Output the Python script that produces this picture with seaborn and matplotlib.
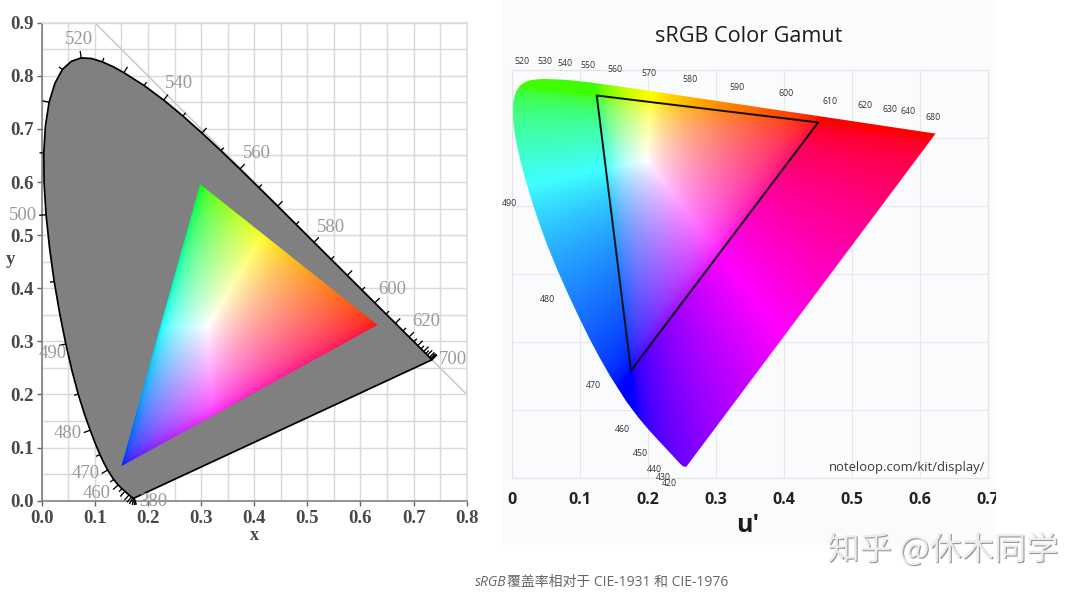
"""sRGB gamut drawn on the CIE-1931 xy and CIE-1976 u'v' chromaticity diagrams."""

import numpy as np
import matplotlib
matplotlib.use("Agg")
import matplotlib.pyplot as plt
import matplotlib.patheffects as pe
from matplotlib.patches import Polygon, Rectangle
from matplotlib.transforms import Bbox
import seaborn as sns

W, H = 1087, 593

# ---------------------------------------------------------------------------
# Data
# ---------------------------------------------------------------------------

# spectral locus, xy (half steps are only there to keep the bend round)
wave_nm = [380, 390, 400, 410, 420, 430, 440, 450, 455, 460, 465, 470, 472.5, 475, 477.5, 480, 482.5, 485,
           487.5, 490, 492.5, 495, 497.5, 500, 502.5, 505, 507.5, 510, 512.5, 515, 517.5, 520, 522.5, 525,
           527.5, 530, 535, 540, 545, 550, 555, 560, 565, 570, 575, 580, 585, 590, 595, 600, 605, 610, 615,
           620, 625, 630, 635, 640, 645, 650, 660, 670, 680, 690, 700]
locus_x = [.1741, .1738, .1733, .1726, .1714, .1689, .1644, .1566, .1510, .1440, .1355, .1241, .1173, .1096,
           .1010, .0913, .0803, .0687, .0570, .0454, .0340, .0235, .0148, .0082, .0045, .0039, .0071, .0139,
           .0248, .0389, .0557, .0743, .0939, .1142, .1346, .1547, .1929, .2296, .2658, .3016, .3373, .3731,
           .4087, .4441, .4788, .5125, .5448, .5752, .6029, .6270, .6482, .6658, .6801, .6915, .7006, .7079,
           .7140, .7190, .7230, .7260, .7300, .7320, .7334, .7344, .7347]
locus_y = [.0050, .0049, .0048, .0048, .0051, .0069, .0109, .0177, .0227, .0297, .0399, .0578, .0706, .0868,
           .1073, .1327, .1637, .2007, .2447, .2950, .3519, .4127, .4756, .5384, .5985, .6548, .7059, .7502,
           .7857, .8120, .8272, .8338, .8326, .8262, .8171, .8059, .7816, .7543, .7243, .6923, .6589, .6245,
           .5896, .5547, .5202, .4866, .4544, .4242, .3965, .3725, .3514, .3340, .3197, .3083, .2993, .2920,
           .2859, .2809, .2770, .2740, .2700, .2680, .2666, .2656, .2653]

# spectral locus, u'v'
locus_u = [.2568, .2522, .2461, .2347, .2161, .2033, .1877, .1690, .1441, .1299, .1147, .0989, .0828, .0669,
           .0521, .0392, .0282, .0190, .0119, .0068, .0035, .0018, .0014, .0025, .0046, .0080, .0123, .0174,
           .0231, .0293, .0360, .0429, .0501, .0792, .1127, .1531, .2026, .2623, .3315, .4035, .4692, .5203,
           .5830, .6234]
locus_v = [.0166, .0169, .0226, .0350, .0549, .0688, .0871, .1119, .1510, .1759, .2044, .2364, .2708, .3067,
           .3427, .3782, .4117, .4426, .4698, .4933, .5131, .5295, .5432, .5545, .5638, .5712, .5770, .5809,
           .5837, .5853, .5861, .5866, .5868, .5856, .5821, .5766, .5694, .5604, .5501, .5393, .5296, .5219,
           .5125, .5065]

# sRGB triangle corners R, G, B
srgb_x = [.632, .298, .15]
srgb_y = [.331, .596, .065]
srgb_u = [.4507, .1250, .1754]
srgb_v = [.5229, .5625, .1579]

left_xticks = [0.0, 0.1, 0.2, 0.3, 0.4, 0.5, 0.6, 0.7, 0.8]
left_yticks = [0.0, 0.1, 0.2, 0.3, 0.4, 0.5, 0.6, 0.7, 0.8, 0.9]
right_xticks = [0, 0.1, 0.2, 0.3, 0.4, 0.5, 0.6, 0.7]
right_xlabels = ["0", "0.1", "0.2", "0.3", "0.4", "0.5", "0.6", "0.7"]
right_yticks = [0, 0.1, 0.2, 0.3, 0.4, 0.5, 0.6]

left_wave_labels = ["520", "540", "560", "580", "600", "620", "700", "500", "490", "480", "470", "460", "380"]
right_wave_labels = ["520", "530", "540", "550", "560", "570", "580", "590", "600", "610", "620", "630",
                     "640", "680", "490", "480", "470", "460", "450", "440", "430", "420"]

# label anchors in image pixels
left_label_px = [(79, 40), (179, 84), (257, 153), (331, 228), (392, 289), (426, 322), (453, 359),
                 (23, 215), (53, 354), (68, 433), (86, 474), (97, 493), (153, 501)]
right_label_px = [(522, 61), (545, 61), (565, 63), (588, 65), (615, 69), (649, 73), (690, 80), (737, 87),
                  (786, 94), (830, 101), (865, 106), (890, 110), (908, 112), (933, 117), (510, 203),
                  (548, 299), (593, 385), (622, 430), (640, 453), (654, 469), (663, 477), (669, 484)]


# ---------------------------------------------------------------------------
# Helpers
# ---------------------------------------------------------------------------

def xy_to_rgb(x, y, green_lift=0.0):
    """Display colour of a chromaticity: out of gamut clipped, brightest channel at 1."""
    y = np.maximum(y, 1e-4)
    X, Z = x / y, (1 - x - y) / y
    r = 3.2406 * X - 1.5372 - 0.4986 * Z
    g = -0.9689 * X + 1.8758 + 0.0415 * Z
    b = 0.0557 * X - 0.2040 + 1.0570 * Z
    rgb = np.clip(np.dstack([r, g, b]), 0, None)
    rgb = rgb / np.maximum(rgb.max(axis=2, keepdims=True), 1e-6)
    rgb[..., 0] = np.minimum(rgb[..., 0] + green_lift * rgb[..., 1], 1)
    return np.where(rgb <= 0.0031308, 12.92 * rgb, 1.055 * rgb ** (1 / 2.4) - 0.055)


def add_axes_px(fig, left, top, right, bottom):
    return fig.add_axes([left / W, 1 - bottom / H, (right - left) / W, (bottom - top) / H])


def px_text(fig, x, y, s, **kw):
    kw.setdefault("ha", "center")
    kw.setdefault("va", "center")
    return fig.text(x / W, 1 - y / H, s, **kw)


# ---------------------------------------------------------------------------
# Figure
# ---------------------------------------------------------------------------

sns.set_style("white")
plt.rcParams["font.family"] = ["Open Sans", "Noto Sans CJK SC", "DejaVu Sans"]

fig = plt.figure(figsize=(W / 100, H / 100), dpi=100, facecolor="white")
PANEL = "#fafbfd"
fig.add_artist(Rectangle((503 / W, 1 - 545 / H), 493 / W, 545 / H, transform=fig.transFigure,
                         facecolor=PANEL, edgecolor="none", zorder=-5))

# ---------------------------------------------------------------------------
# Left: CIE-1931
# ---------------------------------------------------------------------------

SERIF = "Liberation Serif"
ax = add_axes_px(fig, 41.7, 22.7, 466.7, 500.7)
ax.set_facecolor("white")
ax.set_xlim(0, 0.8)
ax.set_ylim(0, 0.9)
ax.set_xticks(left_xticks)
ax.set_yticks(left_yticks)
ax.set_xticks(np.arange(1, 16, 2) * 0.05, minor=True)
ax.set_yticks(np.arange(1, 18, 2) * 0.05, minor=True)
ax.set_xticklabels([f"{t:.1f}" for t in left_xticks])
ax.set_yticklabels([f"{t:.1f}" for t in left_yticks])
ax.grid(True, which="both", color="#dadada", linewidth=1.05, zorder=0)
ax.set_axisbelow(True)
ax.tick_params(axis="both", which="major", length=3.5, width=1.0, color="#666666", labelcolor="#484848",
               labelsize=13.5, left=True, bottom=True)
ax.tick_params(axis="x", which="major", pad=3)
ax.tick_params(axis="y", which="major", pad=2)
ax.tick_params(axis="both", which="minor", length=0)
for label in ax.get_xticklabels() + ax.get_yticklabels():
    label.set_family(SERIF)
    label.set_fontweight("bold")
for side, spine in ax.spines.items():
    spine.set_color("#777777" if side in ("left", "bottom") else "#dadada")
    spine.set_linewidth(1.1)

sns.lineplot(x=[0.1, 0.8], y=[0.9, 0.2], color="#c8c8c8", linewidth=1.1, ax=ax, zorder=1)
ax.fill(locus_x, locus_y, facecolor="#808080", edgecolor="none", zorder=2)

# gamut triangle
gx, gy = np.meshgrid(np.linspace(0.1, 0.7, 500), np.linspace(0, 0.65, 500))
img = ax.imshow(xy_to_rgb(gx, gy), extent=(0.1, 0.7, 0, 0.65), origin="lower", aspect="auto", zorder=3,
                interpolation="bilinear")
img.set_clip_path(Polygon(np.column_stack([srgb_x, srgb_y]), transform=ax.transData))
ax.set_xlim(0, 0.8)
ax.set_ylim(0, 0.9)

# locus outline and wavelength ticks
closed_x = locus_x + locus_x[:1]
closed_y = locus_y + locus_y[:1]
sns.lineplot(x=closed_x, y=closed_y, sort=False, estimator=None, color="black", linewidth=1.25, ax=ax, zorder=4)
lx, ly = np.array(locus_x), np.array(locus_y)
dx, dy = np.gradient(lx), np.gradient(ly)
norm = np.hypot(dx, dy)
for w, px_, py_, tx, ty in zip(wave_nm, lx, ly, dx / norm, dy / norm):
    if w % 5:
        continue
    size = 0.013 if w % 10 == 0 else 0.008
    # locus runs clockwise, so the outside is on the left of travel
    ax.plot([px_, px_ - ty * size], [py_, py_ + tx * size], color="black", linewidth=0.95,
            clip_on=False, zorder=4, solid_capstyle="butt")

ax.set_xlabel("")
ax.set_ylabel("")
px_text(fig, 254, 535, "x", family=SERIF, fontsize=13, fontweight="bold", color="#484848")
px_text(fig, 10, 259, "y", family=SERIF, fontsize=13.5, fontweight="bold", color="#484848")
for s, (px_, py_) in zip(left_wave_labels, left_label_px):
    px_text(fig, px_, py_, s, family=SERIF, fontsize=13.5, color="#9a9a9a", zorder=6)

# ---------------------------------------------------------------------------
# Right: CIE-1976
# ---------------------------------------------------------------------------

ax2 = add_axes_px(fig, 511.7, 70, 987.7, 478)
ax2.set_facecolor(PANEL)
ax2.set_xlim(0, 0.7)
ax2.set_ylim(0, 0.6)
ax2.set_xticks(right_xticks)
ax2.set_xticklabels(right_xlabels)
ax2.set_yticks(right_yticks)
ax2.set_yticklabels([])
ax2.grid(True, color="#e6e8ec", linewidth=0.85)
ax2.set_axisbelow(True)
ax2.tick_params(axis="both", length=0, labelsize=11.5, labelcolor="#222222", pad=10)
for label in ax2.get_xticklabels():
    label.set_fontweight("bold")
    label.set_clip_box(Bbox([[0, 0], [996, H]]))
    label.set_clip_on(True)
for spine in ax2.spines.values():
    spine.set_color("#e2e4e8")
    spine.set_linewidth(0.9)

uu, vv = np.meshgrid(np.linspace(0, 0.7, 800), np.linspace(0, 0.6, 700))
den = 6 * uu - 16 * vv + 12
img2 = ax2.imshow(xy_to_rgb(9 * uu / den, 4 * vv / den, green_lift=0.05), extent=(0, 0.7, 0, 0.6), origin="lower",
                  aspect="auto", zorder=2, interpolation="bilinear")
img2.set_clip_path(Polygon(np.column_stack([locus_u, locus_v]), transform=ax2.transData))
ax2.set_xlim(0, 0.7)
ax2.set_ylim(0, 0.6)

sns.lineplot(x=srgb_u + srgb_u[:1], y=srgb_v + srgb_v[:1], sort=False, estimator=None, color="#101018",
             linewidth=1.4, ax=ax2, zorder=3)
ax2.set_xlabel("")
ax2.set_ylabel("")

for s, (px_, py_) in zip(right_wave_labels, right_label_px):
    px_text(fig, px_, py_, s, fontsize=6.3, color="#333333", zorder=6)
px_text(fig, 749, 36, "sRGB Color Gamut", fontsize=15.6, color="#1c1c1c")
px_text(fig, 748, 525, "u\u2032", fontsize=18, fontweight="bold", color="#1c1c1c",
        family=["Open Sans", "DejaVu Sans"])
px_text(fig, 985, 468, "noteloop.com/kit/display/", ha="right", fontsize=9.4, color="#3a3a3a", zorder=6)

# ---------------------------------------------------------------------------
# Caption and watermark
# ---------------------------------------------------------------------------

px_text(fig, 507, 582.5, "sRGB", ha="right", fontsize=10, style="italic", color="#666666")
px_text(fig, 507, 582, "覆盖率相对于 CIE-1931 和 CIE-1976", ha="left", fontsize=10, color="#666666",
        family=["Open Sans", "Noto Sans CJK SC"])

shadow = [pe.withSimplePatchShadow(offset=(0.8, -0.8), shadow_rgbFace=(0.6, 0.6, 0.6), alpha=1)]
mark = px_text(fig, 943, 550, "知乎 @休木同学", fontsize=23.2, color="#ececec", zorder=7,
               family=["Noto Sans CJK SC", "DejaVu Sans"])
mark.set_path_effects(shadow)

fig.savefig("out.png", dpi=100)
